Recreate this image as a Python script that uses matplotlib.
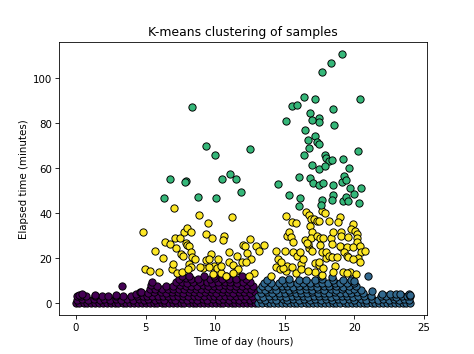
import matplotlib
matplotlib.use("Agg")
import matplotlib.pyplot as plt
from matplotlib import cm

# ---------------- data (hours, minutes) ----------------
# cluster 0 (purple): early day, short elapsed times
purple_x = [
    0.0,0.25,0.55,0.8,1.1,1.4,1.65,1.95,2.2,2.5,2.8,3.05,3.35,3.6,3.9,4.2,4.45,4.75,5.0,5.3,5.6,5.85,6.15,6.4,
    6.7,7.0,7.25,7.55,7.8,8.1,8.4,8.65,8.95,9.2,9.5,9.8,10.05,10.35,10.6,10.9,11.2,11.45,11.75,12.0,12.3,12.6,12.85,
    0.1,0.45,0.9,1.3,1.7,2.05,2.45,2.9,3.25,3.7,4.1,4.5,4.9,5.2,5.65,6.0,6.35,6.8,7.15,7.6,7.95,8.35,8.7,9.1,
    9.45,9.85,10.25,10.6,11.0,11.35,11.7,12.1,12.5,12.8,
    0.05,0.35,0.7,1.35,1.9,2.3,2.85,3.4,3.95,4.4,4.8,5.1,5.5,5.9,6.25,6.6,7.0,7.35,7.7,8.05,8.45,8.8,9.2,9.6,
    9.95,10.3,10.7,11.1,11.5,11.85,12.25,12.65,
    0.2,0.45,1.4,2.9,4.3,4.6,3.3,
    4.7,5.2,5.6,6.1,6.5,6.9,7.3,7.7,8.1,8.5,8.9,9.3,9.7,10.1,10.5,10.9,11.3,11.7,12.1,12.5,12.9,
    5.3,5.7,6.2,6.6,7.0,7.4,7.8,8.2,8.6,9.0,9.4,9.8,10.2,10.6,11.0,11.4,11.8,12.2,12.6,
    5.4,5.8,6.5,7.0,7.5,7.9,8.3,8.7,9.1,9.5,9.9,10.3,10.7,11.1,11.5,11.9,12.3,12.7,
    5.5,7.2,7.6,8.0,8.4,8.9,9.4,9.8,10.2,10.7,11.1,11.6,12.0,12.5,
    7.4,7.9,8.3,8.8,9.6,10.0,10.5,11.0,11.5,12.2,
    7.6,8.1,9.2,9.9,10.8,11.9,
]
purple_y = [
    0,0,0,0,0,0,0,0,0,0,0,0,0,0,0,0,0,0,0,0,0,0,0,0,
    0,0,0,0,0,0,0,0,0,0,0,0,0,0,0,0,0,0,0,0,0,0,0,
    1.3,1.5,1.2,1.4,1.3,1.5,1.2,1.4,1.3,1.5,1.2,1.4,1.3,1.5,1.2,1.4,1.3,1.5,1.2,1.4,1.3,1.5,1.2,1.4,
    1.3,1.5,1.2,1.4,1.3,1.5,1.2,1.4,1.3,1.5,
    2.8,3.0,2.7,2.9,2.8,3.0,2.7,2.9,2.8,3.0,2.7,2.9,2.8,3.0,2.7,2.9,2.8,3.0,2.7,2.9,2.8,3.0,2.7,2.9,
    2.8,3.0,2.7,2.9,2.8,3.0,2.7,2.9,
    3.4,3.6,3.4,3.3,4.0,4.6,7.5,
    4.5,4.4,4.6,4.5,4.3,4.6,4.5,4.4,4.6,4.5,4.3,4.6,4.5,4.4,4.6,4.5,4.3,4.6,4.5,4.4,4.6,
    6.0,6.2,5.9,6.1,6.0,6.2,5.9,6.1,6.0,6.2,5.9,6.1,6.0,6.2,5.9,6.1,6.0,6.2,5.9,
    7.6,7.2,7.5,7.4,7.6,7.3,7.5,7.4,7.6,7.3,7.5,7.4,7.6,7.3,7.5,7.4,7.6,7.3,
    9.3,9.0,9.2,8.9,9.1,9.0,9.2,8.9,9.1,9.0,9.2,8.9,9.1,9.0,
    10.5,10.7,10.4,10.6,10.5,10.7,10.4,10.6,10.5,10.3,
    11.8,12.0,11.7,11.9,11.6,11.8,
]

# cluster 1 (blue): afternoon/evening, short elapsed times
blue_x = [
    13.1,13.4,13.7,13.95,14.25,14.5,14.8,15.1,15.35,15.65,15.9,16.2,16.5,16.75,17.05,17.3,17.6,17.9,18.15,18.45,
    18.7,19.0,19.3,19.55,19.85,20.1,20.4,20.7,20.95,21.25,21.5,21.8,22.1,22.35,22.65,22.9,23.2,23.5,23.75,24.0,
    13.2,13.6,14.0,14.4,14.85,15.2,15.6,16.0,16.4,16.8,17.2,17.6,18.0,18.4,18.8,19.2,19.6,20.0,20.45,20.85,
    21.3,21.7,22.1,22.5,22.85,23.25,23.6,23.95,
    13.05,13.45,13.9,14.3,14.7,15.1,15.5,15.9,16.3,16.7,17.1,17.5,17.9,18.3,18.7,19.1,19.5,19.9,20.3,20.7,
    21.2,21.9,22.3,22.7,23.0,23.4,23.8,24.0,
    22.0,22.6,23.0,23.3,23.9,24.0,21.3,21.0,
    13.3,13.7,14.1,14.6,15.0,15.4,15.8,16.2,16.6,17.0,17.4,17.8,18.2,18.6,19.0,19.4,19.8,20.2,20.6,
    13.2,13.6,14.0,14.4,14.9,15.3,15.7,16.1,16.5,17.0,17.4,17.8,18.3,18.7,19.1,19.6,20.0,20.5,
    13.4,13.8,14.3,14.8,15.2,15.6,16.0,16.5,16.9,17.3,17.8,18.2,18.7,19.2,19.6,20.1,
    13.5,14.0,14.6,15.0,15.4,15.9,16.3,16.8,17.3,17.7,18.1,18.6,19.0,19.5,20.0,
    13.7,14.8,15.3,16.0,16.5,17.2,17.7,18.5,19.2,19.8,18.4,17.6,20.0,
]
blue_y = [
    0,0,0,0,0,0,0,0,0,0,0,0,0,0,0,0,0,0,0,0,
    0,0,0,0,0,0,0,0,0,0,0,0,0,0,0,0,0,0,0,0,
    1.4,1.2,1.5,1.3,1.4,1.2,1.5,1.3,1.4,1.2,1.5,1.3,1.4,1.2,1.5,1.3,1.4,1.2,1.5,1.3,
    1.4,1.2,1.5,1.3,1.4,1.2,1.5,1.3,
    2.8,2.6,2.9,2.7,2.8,2.6,2.9,2.7,2.8,2.6,2.9,2.7,2.8,2.6,2.9,2.7,2.8,2.6,2.9,2.7,
    2.8,2.9,2.7,2.8,2.6,2.9,2.7,2.8,
    3.6,3.8,4.0,3.7,4.0,3.5,5.0,11.7,
    4.3,4.5,4.2,4.4,4.3,4.5,4.2,4.4,4.3,4.5,4.2,4.4,4.3,4.5,4.2,4.4,4.3,4.5,4.2,
    5.8,5.6,5.9,5.7,5.8,5.6,5.9,5.7,5.8,5.6,5.9,5.7,5.8,5.6,5.9,5.7,5.8,5.6,
    7.3,7.1,7.4,7.2,7.3,7.1,7.4,7.2,7.3,7.1,7.4,7.2,7.3,7.1,7.4,7.2,
    8.8,8.6,8.9,8.7,8.8,8.6,8.9,8.7,8.8,8.6,8.9,8.7,8.8,8.6,8.9,
    10.2,10.0,10.3,10.1,10.2,10.0,10.3,10.1,10.2,10.0,11.5,11.8,9.5,
]

# cluster 3 (yellow): medium elapsed times
yellow_x = [
    4.82,4.96,5.35,5.95,5.71,6.26,6.43,6.74,7.03,7.1,7.46,7.2,7.58,7.67,6.88,6.98,7.24,7.8,8.0,8.27,
    7.9,8.0,8.15,8.3,8.37,8.1,8.27,8.56,7.65,8.07,8.85,9.35,9.52,9.75,9.14,9.35,9.71,9.57,9.93,8.9,
    9.86,10.2,10.14,10.46,10.65,10.6,11.22,10.98,11.0,10.43,11.27,11.58,11.53,10.8,11.94,12.0,12.13,12.27,12.54,12.6,
    12.25,12.76,12.47,12.97,13.12,13.5,11.65,11.3,9.57,
    14.41,14.5,15.0,15.1,15.17,15.3,15.44,15.5,15.83,15.6,15.9,14.41,14.65,15.1,15.17,15.55,15.84,16.2,16.15,16.45,
    16.55,16.74,16.9,16.8,17.0,16.9,16.76,16.7,17.0,17.1,17.3,17.5,17.67,17.9,18.15,17.15,17.48,17.3,17.55,17.53,
    17.7,17.76,17.65,17.94,18.0,18.3,18.4,18.18,18.38,18.5,18.63,18.73,18.97,18.85,19.07,19.02,19.04,18.95,19.45,19.57,
    19.28,19.45,19.57,19.16,19.7,19.93,19.8,20.06,20.17,20.2,20.17,19.93,20.4,20.46,20.77,20.29,20.4,19.93,20.1,19.45,
    18.5,17.76,17.5,17.15,16.7,16.33,16.1,16.6,15.6,14.9,14.05,14.77,
]
yellow_y = [
    31.3,14.7,13.9,13.5,23.0,19.7,26.8,25.9,42.1,28.7,28.7,24.1,21.5,20.9,15.1,17.2,13.2,31.3,33.0,31.3,
    26.4,25.8,25.3,22.4,20.4,17.3,16.0,19.4,13.5,14.7,39.1,30.4,35.4,28.6,15.3,19.1,21.5,19.4,16.4,15.6,
    12.7,19.4,15.3,13.2,29.6,27.7,37.9,22.4,17.8,16.4,16.9,20.9,13.8,12.0,18.2,25.6,25.3,22.1,28.3,19.4,
    17.9,13.2,12.0,25.3,22.8,25.6,15.0,13.2,15.6,
    22.8,19.4,22.8,38.7,29.5,31.3,29.0,35.7,35.4,22.4,20.9,16.0,14.7,13.8,16.4,15.6,13.2,17.0,14.7,27.6,
    40.1,39.1,37.2,34.2,31.3,28.7,24.1,26.1,22.8,37.2,36.1,36.1,40.9,39.7,36.1,17.5,16.9,29.5,28.6,25.6,
    22.4,28.6,12.4,19.7,22.4,28.6,26.1,20.6,20.4,31.3,16.4,20.1,37.9,36.0,31.3,29.5,24.6,25.0,24.6,29.0,
    22.4,20.9,20.4,13.5,13.5,35.0,32.7,32.0,30.5,28.6,26.8,24.6,25.0,22.4,22.8,19.7,17.9,19.4,12.7,13.2,
    13.5,15.3,18.1,13.5,13.8,19.4,22.4,26.4,26.8,15.3,12.0,17.9,
]

# cluster 2 (green): long elapsed times
green_x = [
    19.14,18.32,17.7,20.4,16.4,17.15,15.06,15.5,15.9,16.8,17.46,17.5,17.0,18.44,18.56,8.37,9.33,10.02,12.52,16.43,
    17.17,16.67,17.32,17.5,16.76,16.4,17.9,18.0,18.2,18.4,17.0,17.46,17.9,19.2,19.6,20.3,16.83,17.05,17.5,17.76,
    18.5,19.1,19.25,19.4,19.7,20.46,20.0,18.5,18.4,17.67,17.6,19.2,19.4,19.56,20.36,16.0,16.1,16.0,15.3,14.5,
    6.79,6.35,7.94,7.87,8.8,10.1,10.53,11.08,11.53,11.85,
]
green_y = [
    110.5,106.5,102.5,90.5,91.3,90.5,80.9,87.3,87.9,84.1,81.9,80.1,81.3,86.1,79.1,87.1,69.6,65.6,68.1,76.7,
    74.2,72.4,71.3,70.4,68.9,65.8,65.8,64.3,62.8,63.4,61.3,59.4,60.9,63.9,59.7,67.6,55.3,53.3,52.4,53.3,
    52.3,53.5,56.1,54.4,51.1,51.1,48.4,47.7,45.6,45.6,43.3,45.2,46.8,45.2,44.3,55.7,46.7,43.0,47.7,52.9,
    55.0,46.4,54.2,53.5,47.0,46.5,55.0,57.3,55.0,49.3,
]

cluster_order = [0, 1, 3, 2]
title = "K-means clustering of samples"
xlabel = "Time of day (hours)"
ylabel = "Elapsed time (minutes)"

# ---------------- plot ----------------
fig = plt.figure(figsize=(6.4, 4.793), dpi=74.0625)
ax = fig.add_subplot(111)
cmap = matplotlib.colormaps["viridis"]
series = {0: (purple_x, purple_y), 1: (blue_x, blue_y), 2: (green_x, green_y), 3: (yellow_x, yellow_y)}
for k in cluster_order:
    xs, ys = series[k]
    assert len(xs) == len(ys)
    ax.scatter(xs, ys, s=50, color=cmap(k / 3), edgecolors="black", linewidths=0.9)

ax.set_title(title)
ax.set_xlabel(xlabel)
ax.set_ylabel(ylabel)
fig.savefig("out.png", dpi=74.0625)
